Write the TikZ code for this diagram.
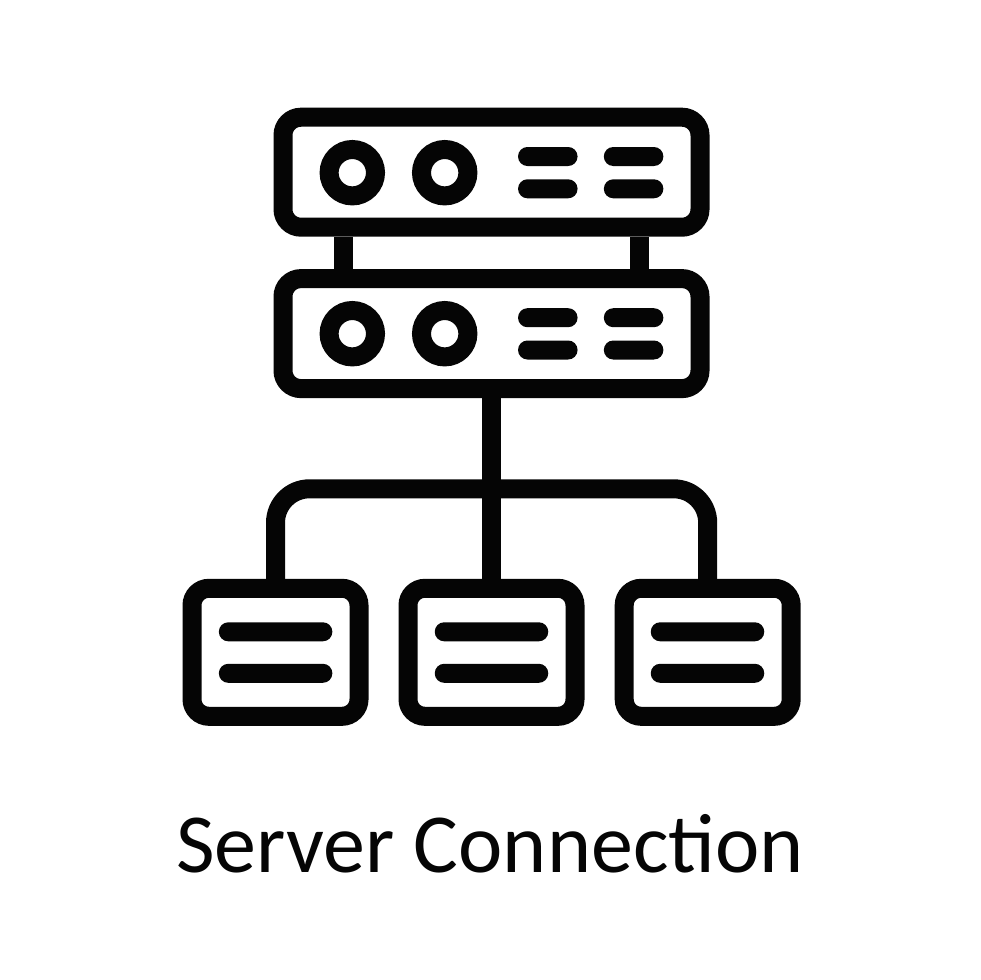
\documentclass[tikz,border=0pt]{standalone}
\usepackage{fontspec}
\setmainfont{Carlito}
\definecolor{ink}{HTML}{050505}
\tikzset{
  line/.style={draw=ink,line width=19pt},
  srv/.style={line,rectangle,rounded corners=18pt,minimum width=417pt,minimum height=110pt,inner sep=0pt},
  leaf/.style={line,rectangle,rounded corners=17pt,minimum width=167pt,minimum height=128pt,inner sep=0pt},
  disc/.style={line,circle,minimum size=46.4pt,inner sep=0pt},
  pill/.style={fill=ink,rectangle,rounded corners=9.4pt,minimum height=19pt,inner sep=0pt},
  spill/.style={pill,minimum width=59.5pt},
  lpill/.style={pill,minimum width=113.5pt},
  caption/.style={text=ink,inner sep=0pt,anchor=base,font=\fontsize{84}{84}\selectfont}
}
\begin{document}
\begin{tikzpicture}[x=1pt,y=-1pt]
\useasboundingbox[fill=white] (0,0) rectangle (980,980);
% servers
\node[srv] (s1) at (491.5,172.2) {};
\node[srv] (s2) at (491.5,333.6) {};
\foreach \n/\y in {a/172.7,b/333.7}{
  \node[disc] (c1\n) at (352.3,\y) {};
  \node[disc] (c2\n) at (444.7,\y) {};
}
\foreach \n/\y in {a/156.5,b/188.8,c/317.7,d/350}{
  \node[spill] (p1\n) at (547.8,\y) {};
  \node[spill] (p2\n) at (633.6,\y) {};
}
% leaves
\node[leaf] (b1) at (275.5,652.3) {};
\node[leaf] (b2) at (491.5,652.3) {};
\node[leaf] (b3) at (707.7,652.3) {};
\foreach \i/\x in {1/275.6,2/491.5,3/707.5}{
  \node[lpill] (q\i a) at (\x,631.8) {};
  \node[lpill] (q\i b) at (\x,673.3) {};
}
% connectors
\coordinate (la) at (343.5,0);
\coordinate (ra) at (639.4,0);
\coordinate (bus) at (491.5,488.8);
\draw[line] (s1.south -| la) -- (s2.north -| la);
\draw[line] (s1.south -| ra) -- (s2.north -| ra);
\draw[line] (s2.south) -- (b2.north);
\draw[line,rounded corners=34pt] (b1.north) |- (bus) -| (b3.north);
% caption
\node[caption] (t) at (490,872.5) {Server Connection};
\end{tikzpicture}
\end{document}
